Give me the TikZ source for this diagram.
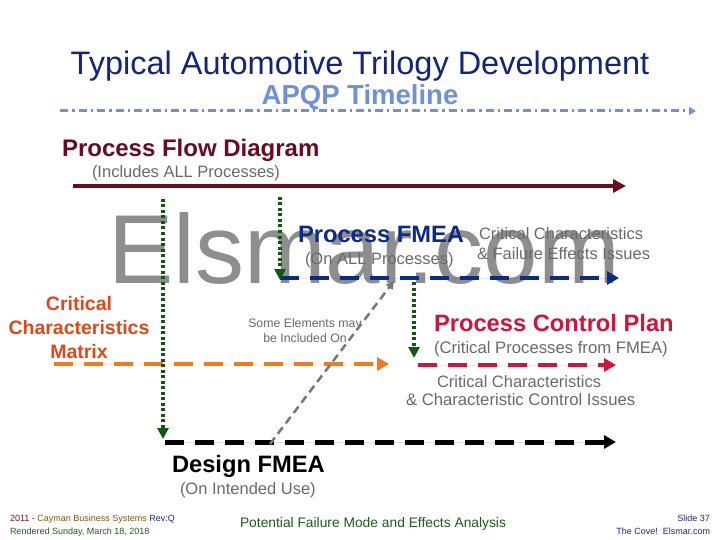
\documentclass[tikz,border=0pt]{standalone}
\usepackage{fontspec}
\setmainfont{Liberation Sans}
\usetikzlibrary{arrows.meta}
\definecolor{titleblue}{HTML}{14247C}
\definecolor{apqpblue}{HTML}{6E92DA}
\definecolor{pfdred}{HTML}{6B0C1E}
\definecolor{txtgray}{HTML}{6A6A6A}
\definecolor{wmgray}{HTML}{8E8E8E}
\definecolor{fmeablue}{HTML}{0B2A8A}
\definecolor{pcpred}{HTML}{D0143C}
\definecolor{ccmorange}{HTML}{E0481A}
\definecolor{linorange}{HTML}{F07A1E}
\definecolor{dotgreen}{HTML}{0C5A12}
\definecolor{linegray}{HTML}{777777}
\definecolor{footred}{HTML}{7A1020}
\definecolor{footolive}{HTML}{7A5A10}
\definecolor{footnavy}{HTML}{1A2A80}
\definecolor{footgreen}{HTML}{1E5A1E}
\newcommand{\fs}[2]{\fontsize{#1}{#2}\selectfont}
\tikzset{
  txt/.style={inner sep=0pt, outer sep=0pt},
  tl/.style={txt, anchor=base west},
  tc/.style={txt, anchor=base},
  tr/.style={txt, anchor=base east},
  greendot/.style={draw=dotgreen, line width=3.5pt, dash pattern=on 3pt off 2.5pt, -{Triangle[length=11pt,width=11pt]}},
  bigdash/.style={line width=4.5pt, dash pattern=on 19pt off 11pt, -{Triangle[length=12pt,width=13pt]}},
}
\begin{document}
\begin{tikzpicture}[x=1pt,y=-1pt]
\fill[white] (0,0) rectangle (720,540);
\useasboundingbox (0,0) rectangle (720,540);
% watermark
\node[tl, text=wmgray] (wm) at (108,283) {\fs{98}{98}Elsmar.com};
% title
\node[tc, text=titleblue] (title) at (360,75) {\fs{32.5}{34}Typical Automotive Trilogy Development};
\node[tc, text=apqpblue] (apqp) at (360,105) {\fs{27.5}{29}\bfseries APQP Timeline};
\coordinate (a1) at (60,111);
\coordinate (a2) at (696,111);
\draw[apqpblue, line width=3pt, dash pattern=on 8pt off 4pt on 2.5pt off 4pt, -{Triangle[length=7pt,width=8pt]}] (a1) -- (a2);
% process flow diagram
\node[tl, text=pfdred] (pfd) at (62,157) {\fs{24}{26}\bfseries Process Flow Diagram};
\node[tl, text=txtgray] (pfdsub) at (92,178) {\fs{16.5}{18}(Includes ALL Processes)};
\coordinate (p1) at (73,186);
\coordinate (p2) at (626,186);
\draw[pfdred, line width=4.5pt, -{Triangle[length=13pt,width=13pt]}] (p1) -- (p2);
% process FMEA
\node[tl, text=fmeablue] (pf) at (298,243) {\fs{23.7}{25}\bfseries Process FMEA};
\node[tl, text=txtgray] (pfsub) at (305,264) {\fs{16.5}{18}(On ALL Processes)};
\node[tl, text=txtgray] (cc1) at (479,240) {\fs{16.5}{18}Critical Characteristics};
\node[tl, text=txtgray] (cc2) at (477,259) {\fs{16.5}{18}\& Failure Effects Issues};
% process control plan
\node[tl, text=pcpred] (pcp) at (434,331) {\fs{23.7}{25}\bfseries Process Control Plan};
\node[tl, text=txtgray] (pcpsub) at (434,353) {\fs{16.7}{18}(Critical Processes from FMEA)};
\node[tl, text=txtgray] (cc3) at (437,387) {\fs{16.5}{18}Critical Characteristics};
\node[tl, text=txtgray] (cc4) at (406,405) {\fs{16.7}{18}\& Characteristic Control Issues};
% CCM
\node[tc, text=ccmorange] (ccma) at (79,310) {\fs{19.5}{21}\bfseries Critical};
\node[tc, text=ccmorange] (ccmb) at (79,334) {\fs{19.5}{21}\bfseries Characteristics};
\node[tc, text=ccmorange] (ccmc) at (79,358) {\fs{19.5}{21}\bfseries Matrix};
% some elements
\node[tc, text=txtgray] (se1) at (305,327) {\fs{12.3}{14}Some Elements may};
\node[tc, text=txtgray] (se2) at (305,342) {\fs{12.3}{14}be Included On};
% design FMEA
\node[tl, text=black] (df) at (172,472) {\fs{23.7}{25}\bfseries Design FMEA};
\node[tl, text=txtgray] (dfsub) at (180,494) {\fs{16.5}{18}(On Intended Use)};
% timeline coordinates
\coordinate (b1) at (280,278);
\coordinate (b2) at (619,278);
\coordinate (o1) at (54,364);
\coordinate (o2) at (389,364);
\coordinate (r1) at (418,365);
\coordinate (r2) at (616,365);
\coordinate (k1) at (165,442);
\coordinate (k2) at (616,442);
\coordinate (g1a) at (163,199);
\coordinate (g1b) at (163,439);
\coordinate (g2a) at (280,197);
\coordinate (g2b) at (280,280);
\coordinate (g3a) at (414,282);
\coordinate (g3b) at (414,358);
\coordinate (d1) at (270,444);
\coordinate (d2) at (394,281);
% dashed timelines
\draw[bigdash, draw=fmeablue, fill=fmeablue] (b1) -- (b2);
\draw[bigdash, draw=linorange, fill=linorange] (o1) -- (o2);
\draw[bigdash, draw=pcpred, fill=pcpred] (r1) -- (r2);
\draw[bigdash, draw=black, fill=black, line width=5pt] (k1) -- (k2);
% gray diagonal
\draw[linegray, line width=2.5pt, dash pattern=on 8pt off 5pt, -{Triangle[length=8pt,width=8pt]}] (d1) -- (d2);
% green dotted
\draw[greendot] (g1a) -- (g1b);
\draw[greendot] (g2a) -- (g2b);
\draw[greendot] (g3a) -- (g3b);
% footer
\node[tl] (fl1) at (10,521) {\fs{9}{10}\textcolor{footred}{2011 - }\textcolor{footolive}{Cayman Business Systems} \textcolor{footnavy}{Rev:Q}};
\node[tl, text=footgreen] (fl2) at (10,534) {\fs{9}{10}Rendered Sunday, March 18, 2018};
\node[tc, text=footgreen] (fc) at (373,527) {\fs{13.8}{15}Potential Failure Mode and Effects Analysis};
\node[tr, text=footnavy] (fr1) at (710,521) {\fs{9}{10}Slide 37};
\node[tr, text=footnavy] (fr2) at (710,534) {\fs{9}{10}The Cove!~~Elsmar.com};
\end{tikzpicture}
\end{document}
